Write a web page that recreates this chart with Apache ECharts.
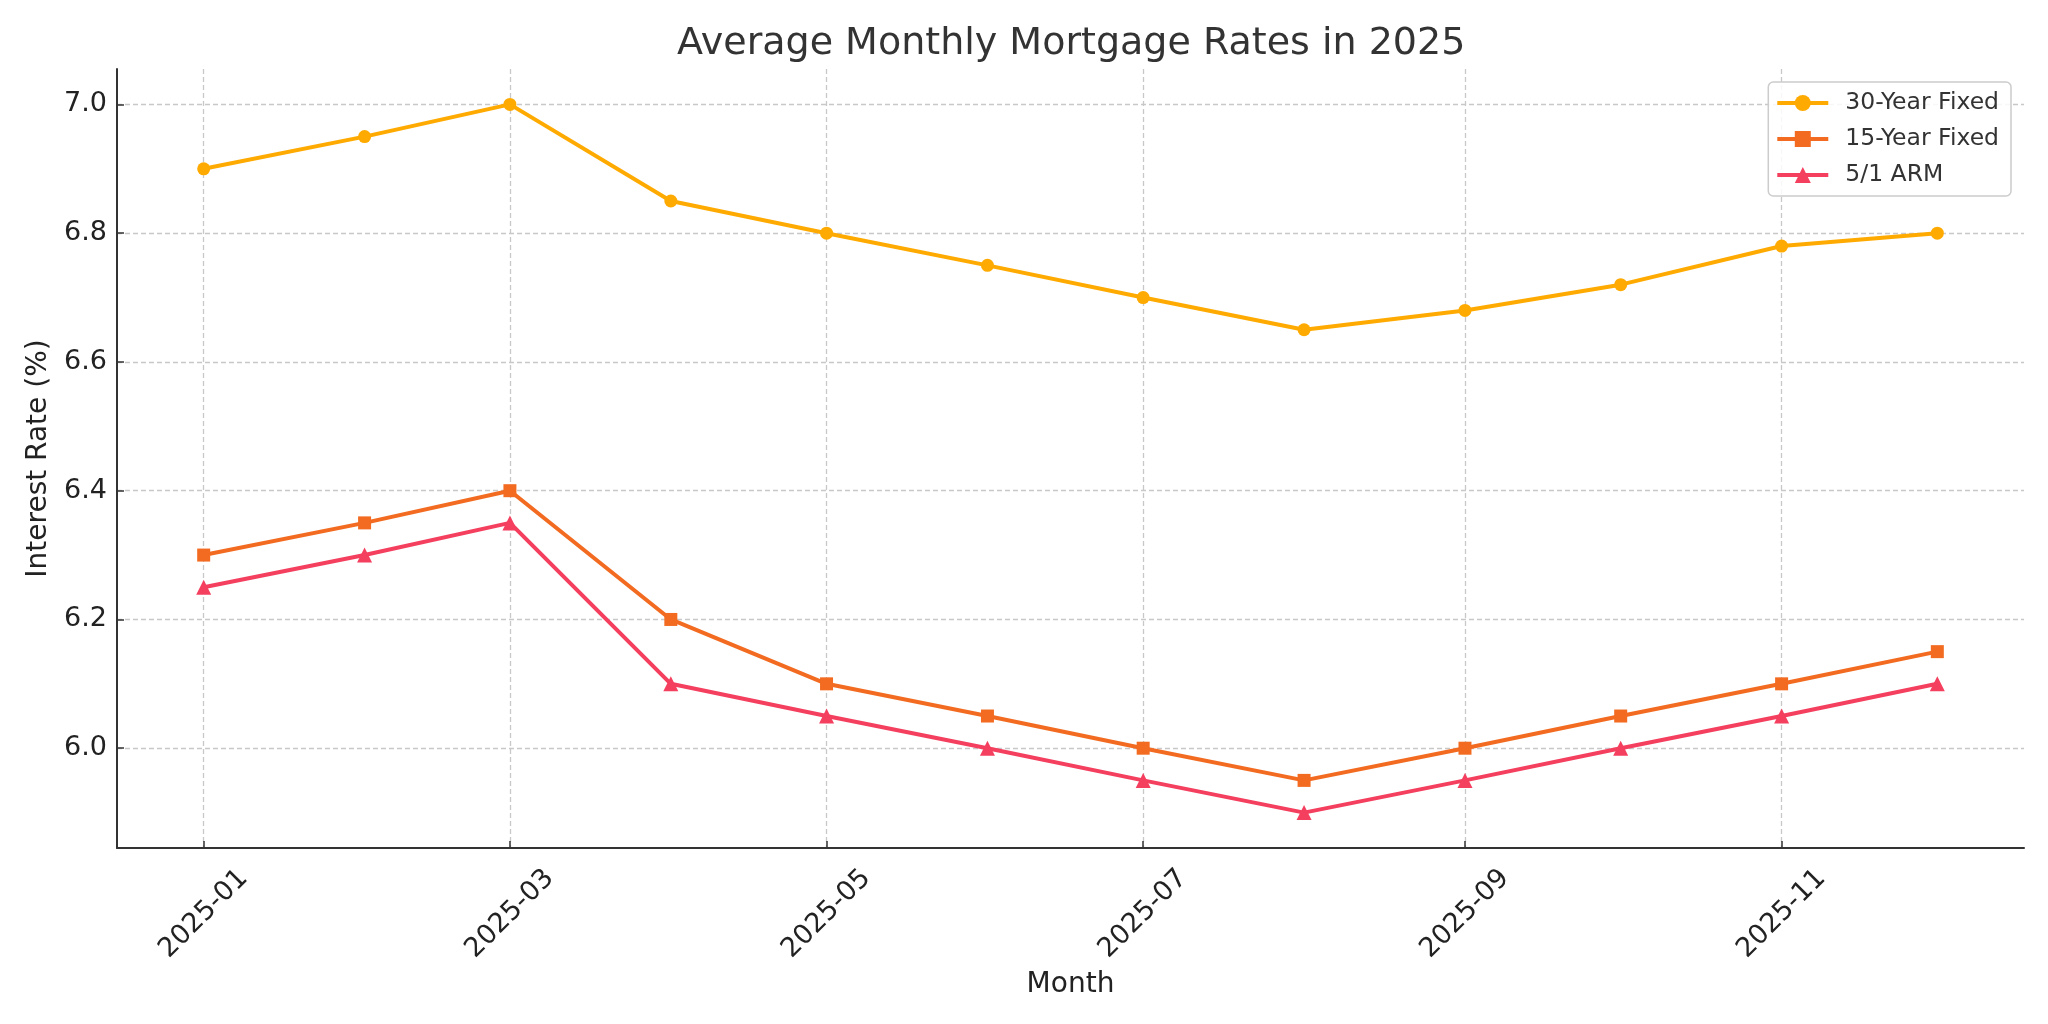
<!DOCTYPE html>
<html>
<head>
<meta charset="utf-8">
<script src="https://cdn.jsdelivr.net/npm/echarts@6/dist/echarts.min.js"></script>
<style>
html,body{margin:0;padding:0;background:#fff;}
#chart{width:2048px;height:1024px;}
</style>
</head>
<body>
<div id="chart"></div>
<script>
const months = ['2025-01','2025-02','2025-03','2025-04','2025-05','2025-06','2025-07','2025-08','2025-09','2025-10','2025-11','2025-12'];
const fixed30 = [6.90,6.95,7.00,6.85,6.80,6.75,6.70,6.65,6.68,6.72,6.78,6.80];
const fixed15 = [6.30,6.35,6.40,6.20,6.10,6.05,6.00,5.95,6.00,6.05,6.10,6.15];
const arm51   = [6.25,6.30,6.35,6.10,6.05,6.00,5.95,5.90,5.95,6.00,6.05,6.10];
const xTickMonths = ['2025-01','2025-03','2025-05','2025-07','2025-09','2025-11'];
const yTicks = [6.0,6.2,6.4,6.6,6.8,7.0];
const seriesNames = ['30-Year Fixed','15-Year Fixed','5/1 ARM'];

function ts(m){ const p = m.split('-'); return Date.UTC(+p[0], +p[1]-1, 1); }
const xStart = ts(months[0]), xEnd = ts(months[months.length-1]);
const xPad = (xEnd - xStart) * 0.05;
const FONT = 'DejaVu Sans';

function pairs(vals){ return months.map((m,i)=>[ts(m), vals[i]]); }

const chart = echarts.init(document.getElementById('chart'), null, {renderer:'canvas'});
const gridLine = {show:true, lineStyle:{color:'#c8c8c8', width:1.3, type:[5,3]}};
const colors = ['#FFAA00','#F26B21','#F43F5E'];
const symbols = ['circle','rect','triangle'];
const datas = [fixed30, fixed15, arm51];

chart.setOption({
  animation:false,
  backgroundColor:'#ffffff',
  title:{
    text:'Average Monthly Mortgage Rates in 2025',
    left:677, top:25, padding:0,
    textStyle:{fontFamily:FONT, fontSize:38, fontWeight:'normal', color:'#333333'}
  },
  legend:{
    orient:'vertical', right:37, top:82,
    padding:[9,12,9,7],
    itemWidth:51, itemHeight:20, itemGap:12,
    backgroundColor:'rgba(255,255,255,0.85)',
    borderColor:'#cccccc', borderWidth:1.5, borderRadius:5,
    lineStyle:{width:4},
    textStyle:{fontFamily:FONT, fontSize:23.5, color:'#333333', lineHeight:24, padding:[0,0,0,12]},
    data:seriesNames
  },
  grid:{left:117, right:24, top:69, bottom:176, containLabel:false},
  xAxis:{
    type:'value',
    min:xStart - xPad, max:xEnd + xPad,
    name:'Month', nameLocation:'middle', nameGap:120,
    nameTextStyle:{fontFamily:FONT, fontSize:28, color:'#222222'},
    axisLine:{show:true, lineStyle:{color:'#333333', width:2}},
    axisTick:{show:true, inside:true, length:7, lineStyle:{color:'#333333', width:1.5},
      customValues: xTickMonths.map(ts)},
    axisLabel:{
      customValues: xTickMonths.map(ts),
      rotate:45, align:'center', verticalAlign:'middle', margin:66,
      fontFamily:FONT, fontSize:27, color:'#222222',
      formatter:function(v){ const d=new Date(v); const mm=d.getUTCMonth()+1; return d.getUTCFullYear()+'-'+(mm<10?'0'+mm:mm); }
    },
    splitLine:gridLine,
    minorTick:{show:false}
  },
  yAxis:{
    type:'value',
    min:5.845, max:7.055,
    name:'Interest Rate (%)', nameLocation:'middle', nameGap:62,
    nameTextStyle:{fontFamily:FONT, fontSize:28, color:'#222222'},
    axisLine:{show:true, lineStyle:{color:'#333333', width:2}},
    axisTick:{show:true, inside:true, length:7, lineStyle:{color:'#333333', width:1.5},
      customValues: yTicks},
    axisLabel:{
      customValues: yTicks,
      margin:10, fontFamily:FONT, fontSize:27, color:'#222222',
      formatter:function(v){ return (+v).toFixed(1); }
    },
    splitLine:gridLine
  },
  series: seriesNames.map((n,i)=>({
    name:n, type:'line',
    data:pairs(datas[i]),
    symbol:symbols[i], symbolSize: i===2 ? 15 : 13,
    showSymbol:true,
    lineStyle:{color:colors[i], width:4},
    itemStyle:{color:colors[i]},
    z: 3 - i
  }))
});
</script>
</body>
</html>
